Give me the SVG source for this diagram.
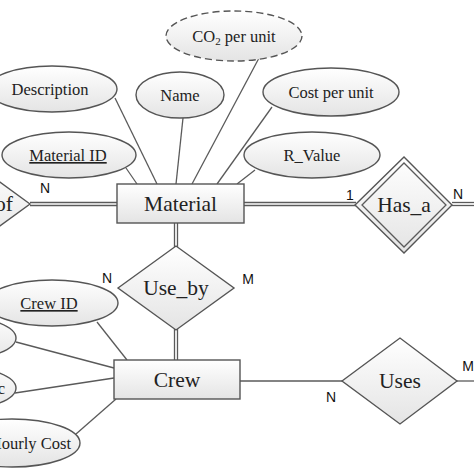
<svg xmlns="http://www.w3.org/2000/svg" width="474" height="474" viewBox="0 0 474 474">
<defs>
<linearGradient id="g" x1="0" y1="0" x2="0" y2="1">
<stop offset="0" stop-color="#ffffff"/>
<stop offset="1" stop-color="#e4e4e4"/>
</linearGradient>
<style>
.sh{fill:url(#g);stroke:#555;stroke-width:1.4}
.dash{stroke-dasharray:7 4}
.ln{stroke:#5a5a5a;stroke-width:1.3;fill:none}
.t{font-family:"Liberation Serif","Times New Roman",serif;fill:#222;text-anchor:middle}
.e{font-size:21.5px}
.a{font-size:16.5px}
.c{font-family:"Liberation Sans",Arial,sans-serif;font-size:14px;fill:#111;text-anchor:middle}
</style>
</defs>
<rect width="474" height="474" fill="#fff"/>
<g id="connectors">
<line class="ln" x1="115" y1="98" x2="157" y2="184"/>
<line class="ln" x1="126" y1="168" x2="137" y2="184"/>
<line class="ln" x1="183" y1="118" x2="176" y2="184"/>
<line class="ln" x1="259" y1="58" x2="192" y2="184"/>
<line class="ln" x1="272" y1="107" x2="217" y2="184"/>
<line class="ln" x1="255" y1="170" x2="237" y2="184"/>
<line class="ln" x1="30" y1="202.5" x2="117" y2="202.5"/>
<line class="ln" x1="30" y1="205.5" x2="117" y2="205.5"/>
<line class="ln" x1="244" y1="202.5" x2="356" y2="202.5"/>
<line class="ln" x1="244" y1="205.5" x2="356" y2="205.5"/>
<line class="ln" x1="452" y1="202.5" x2="474" y2="202.5"/>
<line class="ln" x1="452" y1="205.5" x2="474" y2="205.5"/>
<line class="ln" x1="174.5" y1="223" x2="174.5" y2="247"/>
<line class="ln" x1="177.5" y1="223" x2="177.5" y2="247"/>
<line class="ln" x1="174.5" y1="329" x2="174.5" y2="360"/>
<line class="ln" x1="177.5" y1="329" x2="177.5" y2="360"/>
<line class="ln" x1="97" y1="322" x2="127" y2="360"/>
<line class="ln" x1="16" y1="342" x2="114" y2="368"/>
<line class="ln" x1="15" y1="393" x2="114" y2="378"/>
<line class="ln" x1="76" y1="434" x2="116" y2="399"/>
<line class="ln" x1="240" y1="381" x2="342" y2="381"/>
<line class="ln" x1="457" y1="381" x2="474" y2="381"/>
</g>
<g id="attr-description"><ellipse class="sh" cx="52" cy="89" rx="65" ry="23"/><text class="t a" x="50" y="95">Description</text></g>
<g id="attr-name"><ellipse class="sh" cx="180" cy="95" rx="44" ry="23"/><text class="t a" x="180" y="101">Name</text></g>
<g id="attr-co2"><ellipse class="sh dash" cx="234" cy="36" rx="68" ry="25"/><text class="t a" x="234" y="42">CO<tspan font-size="11" dy="3">2</tspan><tspan dy="-3"> per unit</tspan></text></g>
<g id="attr-cost"><ellipse class="sh" cx="331" cy="92" rx="68" ry="24"/><text class="t a" x="331" y="98">Cost per unit</text></g>
<g id="attr-materialid"><ellipse class="sh" cx="69" cy="155" rx="67" ry="23"/><text class="t a" x="68" y="161" text-decoration="underline">Material ID</text></g>
<g id="attr-rvalue"><ellipse class="sh" cx="312" cy="155" rx="68" ry="23"/><text class="t a" x="312" y="161">R_Value</text></g>
<g id="rel-of"><polygon class="sh" points="30,204 -25,164 -80,204 -25,244"/><text class="t e" x="13" y="211" text-anchor="end" style="text-anchor:end">of</text></g>
<g id="ent-material"><rect class="sh" x="117" y="184" width="127" height="39"/><text class="t e" x="180.5" y="211">Material</text></g>
<g id="rel-hasa"><polygon class="sh" points="355,205 404,157 452,205 404,253"/><polygon class="ln" points="362,205 404,163 446,205 404,247"/><text class="t e" x="404" y="212">Has_a</text></g>
<g id="rel-useby"><polygon class="sh" points="118,288 176,246 234,288 176,330"/><text class="t e" x="176" y="295">Use_by</text></g>
<g id="ent-crew"><rect class="sh" x="114" y="360" width="126" height="39"/><text class="t e" x="177" y="387">Crew</text></g>
<g id="rel-uses"><polygon class="sh" points="342,381 400,338 457,381 400,424"/><text class="t e" x="400" y="388">Uses</text></g>
<g id="attr-crewid"><ellipse class="sh" cx="52" cy="303" rx="66" ry="23"/><text class="t a" x="49" y="309" text-decoration="underline">Crew ID</text></g>
<g id="attr-crew2"><ellipse class="sh" cx="-52" cy="338" rx="68" ry="23"/></g>
<g id="attr-crew3"><ellipse class="sh" cx="-52" cy="388" rx="68" ry="23"/><text class="t a" x="5" y="394" style="text-anchor:end">c</text></g>
<g id="attr-hourly"><ellipse class="sh" cx="12" cy="443" rx="68" ry="24"/><text class="t a" x="71" y="449" style="text-anchor:end">Hourly Cost</text></g>
<g id="labels">
<text class="c" x="45" y="193">N</text>
<text class="c" x="350" y="200">1</text>
<text class="c" x="458" y="199">N</text>
<text class="c" x="107" y="283">N</text>
<text class="c" x="248" y="284">M</text>
<text class="c" x="331" y="402">N</text>
<text class="c" x="468" y="371">M</text>
</g>
</svg>
